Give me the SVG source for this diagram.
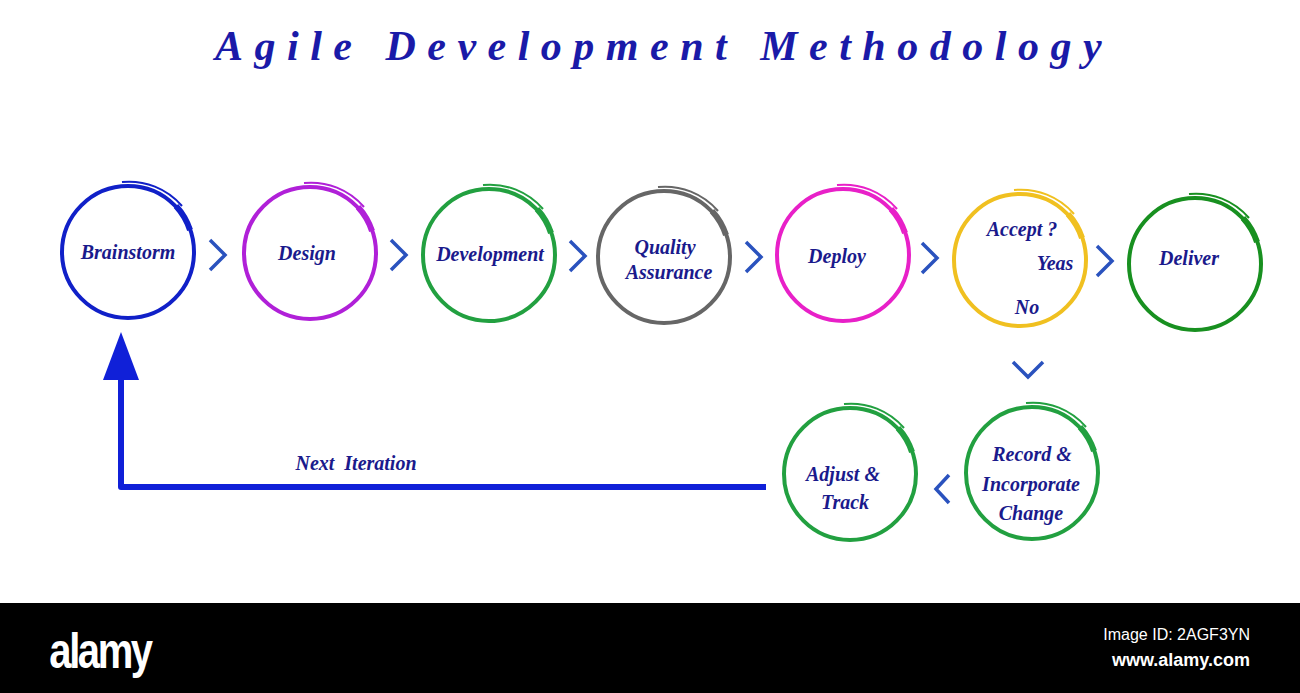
<svg xmlns="http://www.w3.org/2000/svg" width="1300" height="693" viewBox="0 0 1300 693">
<defs>
<style>
.ring{fill:none;stroke-width:4}
.tail{fill:none;stroke-width:2}
.lbl{font-family:"Liberation Serif",serif;font-style:italic;font-weight:bold;font-size:20px;fill:#1a1a8c;text-anchor:middle}
.chev{fill:none;stroke:#2a52be;stroke-width:3.5}
</style>
<g id="ringshape">
<circle class="ring" r="66"/>
<path class="tail" d="M -6 -70 A 70 70 0 0 1 54 -46"/>
<path d="M 48 -46 A 66 66 0 0 1 62 -22" fill="none" stroke-width="6" stroke="inherit"/>
</g>
</defs>
<rect width="1300" height="693" fill="#fff"/>
<text x="664" y="60" font-family="Liberation Serif,serif" font-style="italic" font-weight="bold" font-size="42" letter-spacing="11.5" fill="#1a1aa8" text-anchor="middle">Agile Development Methodology</text>

<g id="brainstorm" stroke="#1020c8"><use href="#ringshape" x="128" y="252"/><text class="lbl" x="128" y="259" stroke="none">Brainstorm</text></g>
<g id="design" stroke="#b020d8"><use href="#ringshape" x="310" y="253"/><text class="lbl" x="307" y="260" stroke="none">Design</text></g>
<g id="development" stroke="#22a040"><use href="#ringshape" x="489" y="255"/><text class="lbl" x="490" y="261" stroke="none">Development</text></g>
<g id="qa" stroke="#666"><use href="#ringshape" x="664" y="257"/><text class="lbl" x="665" y="254" stroke="none">Quality</text><text class="lbl" x="669" y="279" stroke="none">Assurance</text></g>
<g id="deploy" stroke="#e820c8"><use href="#ringshape" x="843" y="255"/><text class="lbl" x="837" y="263" stroke="none">Deploy</text></g>
<g id="accept" stroke="#f0c020"><use href="#ringshape" x="1020" y="260"/><text class="lbl" x="1022" y="236" stroke="none">Accept ?</text><text class="lbl" x="1055" y="270" stroke="none">Yeas</text><text class="lbl" x="1027" y="314" stroke="none">No</text></g>
<g id="deliver" stroke="#189020"><use href="#ringshape" x="1195" y="264"/><text class="lbl" x="1189" y="265" stroke="none">Deliver</text></g>
<g id="record" stroke="#22a040"><use href="#ringshape" x="1032" y="473"/><text class="lbl" x="1032" y="461" stroke="none">Record &amp;</text><text class="lbl" x="1031" y="491" stroke="none">Incorporate</text><text class="lbl" x="1031" y="520" stroke="none">Change</text></g>
<g id="adjust" stroke="#22a040"><use href="#ringshape" x="850" y="474"/><text class="lbl" x="843" y="481" stroke="none">Adjust &amp;</text><text class="lbl" x="845" y="509" stroke="none">Track</text></g>

<g id="connectors">
<polyline class="chev" points="210,240 225,255 210,270"/>
<polyline class="chev" points="391,240 406,255 391,270"/>
<polyline class="chev" points="570,241 585,256 570,271"/>
<polyline class="chev" points="746,242 761,257 746,272"/>
<polyline class="chev" points="922,243 937,258 922,273"/>
<polyline class="chev" points="1097,246 1112,261 1097,276"/>
<polyline class="chev" points="1013,362 1028,377 1043,362"/>
<polyline class="chev" points="949,475 936,489 949,503"/>
<polyline points="766,487 121,487 121,375" fill="none" stroke="#1020d8" stroke-width="6" stroke-linejoin="round"/>
<polygon points="121,332 103,380 139,380" fill="#1020d8"/>
<text class="lbl" x="356" y="470" style="white-space:pre" xml:space="preserve">Next  Iteration</text>
</g>

<rect x="0" y="603" width="1300" height="90" fill="#000"/>
<text x="100" y="668" font-family="Liberation Sans Narrow,Liberation Sans,sans-serif" font-weight="bold" font-size="50" fill="#fff" text-anchor="middle" letter-spacing="-3" transform="translate(100 0) scale(0.8 1) translate(-100 0)">alamy</text>
<text x="1250" y="640" font-family="Liberation Sans Narrow,Liberation Sans,sans-serif" font-size="16" fill="#fff" text-anchor="end">Image ID: 2AGF3YN</text>
<text x="1250" y="666" font-family="Liberation Sans Narrow,Liberation Sans,sans-serif" font-weight="bold" font-size="18" fill="#fff" text-anchor="end">www.alamy.com</text>
</svg>
